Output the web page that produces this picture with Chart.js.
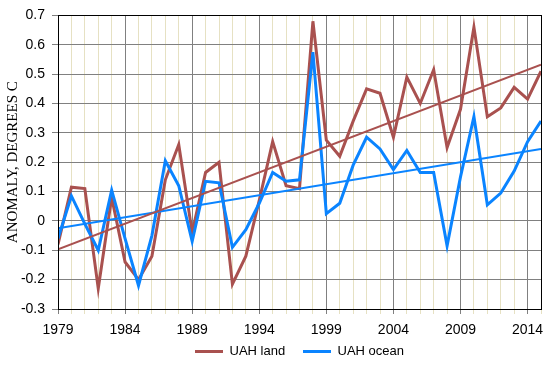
<!DOCTYPE html>
<html>
<head>
<meta charset="utf-8">
<script src="https://cdn.jsdelivr.net/npm/chart.js@4"></script>
<style>
  html, body { margin: 0; padding: 0; background: #fff; }
  #wrap { width: 557px; height: 368px; }
</style>
</head>
<body>
<div id="wrap"><canvas id="chart"></canvas></div>
<script>
// Datos
const years = [1979, 1980, 1981, 1982, 1983, 1984, 1985, 1986, 1987, 1988, 1989,
  1990, 1991, 1992, 1993, 1994, 1995, 1996, 1997, 1998, 1999, 2000, 2001, 2002,
  2003, 2004, 2005, 2006, 2007, 2008, 2009, 2010, 2011, 2012, 2013, 2014, 2015];

const landValues = [-0.08, 0.115, 0.11, -0.23, 0.08, -0.14, -0.2, -0.12, 0.14, 0.26, -0.04,
  0.165, 0.2, -0.215, -0.12, 0.07, 0.27, 0.12, 0.11, 0.68, 0.275, 0.22, 0.34, 0.45,
  0.435, 0.285, 0.49, 0.4, 0.515, 0.25, 0.38, 0.66, 0.355, 0.385, 0.455, 0.415, 0.51];

const oceanValues = [-0.06, 0.085, -0.01, -0.1, 0.105, -0.06, -0.22, -0.05, 0.205, 0.12, -0.07,
  0.135, 0.13, -0.09, -0.03, 0.06, 0.165, 0.135, 0.14, 0.575, 0.025, 0.06, 0.19, 0.285,
  0.245, 0.175, 0.24, 0.165, 0.165, -0.085, 0.15, 0.355, 0.055, 0.095, 0.17, 0.27, 0.34];

// Líneas de tendencia (extremos)
const trendYears = [1979, 2015];
const landTrend = [-0.097, 0.532];
const oceanTrend = [-0.025, 0.245];

const xTickLabels = [1979, 1984, 1989, 1994, 1999, 2004, 2009, 2014];

const BROWN = '#a9514f';
const BLUE = '#0a84ff';

const toPoints = (xs, ys) => xs.map((x, i) => ({ x, y: ys[i] }));

// Marco negro alrededor del área del gráfico
const frame = {
  id: 'frame',
  afterDatasetsDraw(chart) {
    const { ctx, chartArea: a } = chart;
    ctx.save();
    ctx.strokeStyle = '#000';
    ctx.lineWidth = 1;
    ctx.strokeRect(Math.round(a.left) + 0.5, Math.round(a.top) + 0.5,
      Math.round(a.right - a.left), Math.round(a.bottom - a.top));
    ctx.restore();
  },
};

new Chart(document.getElementById('chart'), {
  type: 'line',
  data: {
    datasets: [
      { label: 'land trend', data: toPoints(trendYears, landTrend), borderColor: BROWN, borderWidth: 2, order: 0 },
      { label: 'ocean trend', data: toPoints(trendYears, oceanTrend), borderColor: BLUE, borderWidth: 2, order: 1 },
      { label: 'UAH land', data: toPoints(years, landValues), borderColor: BROWN, backgroundColor: BROWN, borderWidth: 3, order: 3 },
      { label: 'UAH ocean', data: toPoints(years, oceanValues), borderColor: BLUE, backgroundColor: BLUE, borderWidth: 3, order: 2 },
    ],
  },
  options: {
    responsive: true,
    maintainAspectRatio: false,
    animation: false,
    layout: { padding: { top: 15, right: 16, left: 0, bottom: 0 } },
    elements: { point: { radius: 0 }, line: { tension: 0 } },
    plugins: {
      tooltip: { enabled: false },
      legend: {
        position: 'bottom',
        fullSize: false,
        labels: {
          filter: (item) => item.text.startsWith('UAH'),
          sort: (a, b) => a.datasetIndex - b.datasetIndex,
          generateLabels(chart) {
            return Chart.defaults.plugins.legend.labels.generateLabels(chart).map((l) => ({
              ...l,
              text: l.text === 'UAH land' ? 'UAH land\u00a0\u00a0\u00a0' : l.text,
              fillStyle: l.strokeStyle,
              lineWidth: 0,
            }));
          },
          boxWidth: 28,
          boxHeight: 3,
          padding: 7,
          color: '#000',
          font: { family: '"Liberation Sans", Arial, sans-serif', size: 13, lineHeight: 0.77 },
        },
      },
    },
    scales: {
      x: {
        type: 'linear',
        min: 1979,
        max: 2015,
        afterFit: (s) => { s.height = 29; },
        border: { color: '#000', width: 1 },
        grid: {
          color: (c) => ((c.tick.value - 1979) % 5 === 0 ? '#808080' : '#e6e1c3'),
          tickLength: 5,
        },
        ticks: {
          stepSize: 1,
          autoSkip: false,
          maxRotation: 0,
          padding: 8,
          color: '#000',
          font: { family: '"Liberation Sans", Arial, sans-serif', size: 14 },
          callback: (v) => (xTickLabels.includes(v) ? String(v) : ''),
        },
      },
      y: {
        min: -0.3,
        max: 0.7,
        afterFit: (s) => { s.width = 58; },
        border: { color: '#000', width: 1 },
        grid: { color: '#808080', tickLength: 6 },
        ticks: {
          stepSize: 0.1,
          padding: 7,
          color: '#000',
          font: { family: '"Liberation Sans", Arial, sans-serif', size: 14 },
          callback: (v) => {
            const r = Math.round(v * 10) / 10;
            return r === 0 ? '0' : r.toFixed(1);
          },
        },
        title: {
          display: true,
          text: 'ANOMALY, DEGREES C',
          color: '#000',
          padding: { top: 4, bottom: 0 },
          font: { family: '"Liberation Serif", "Times New Roman", serif', size: 15 },
        },
      },
    },
  },
  plugins: [frame],
});
</script>
</body>
</html>
